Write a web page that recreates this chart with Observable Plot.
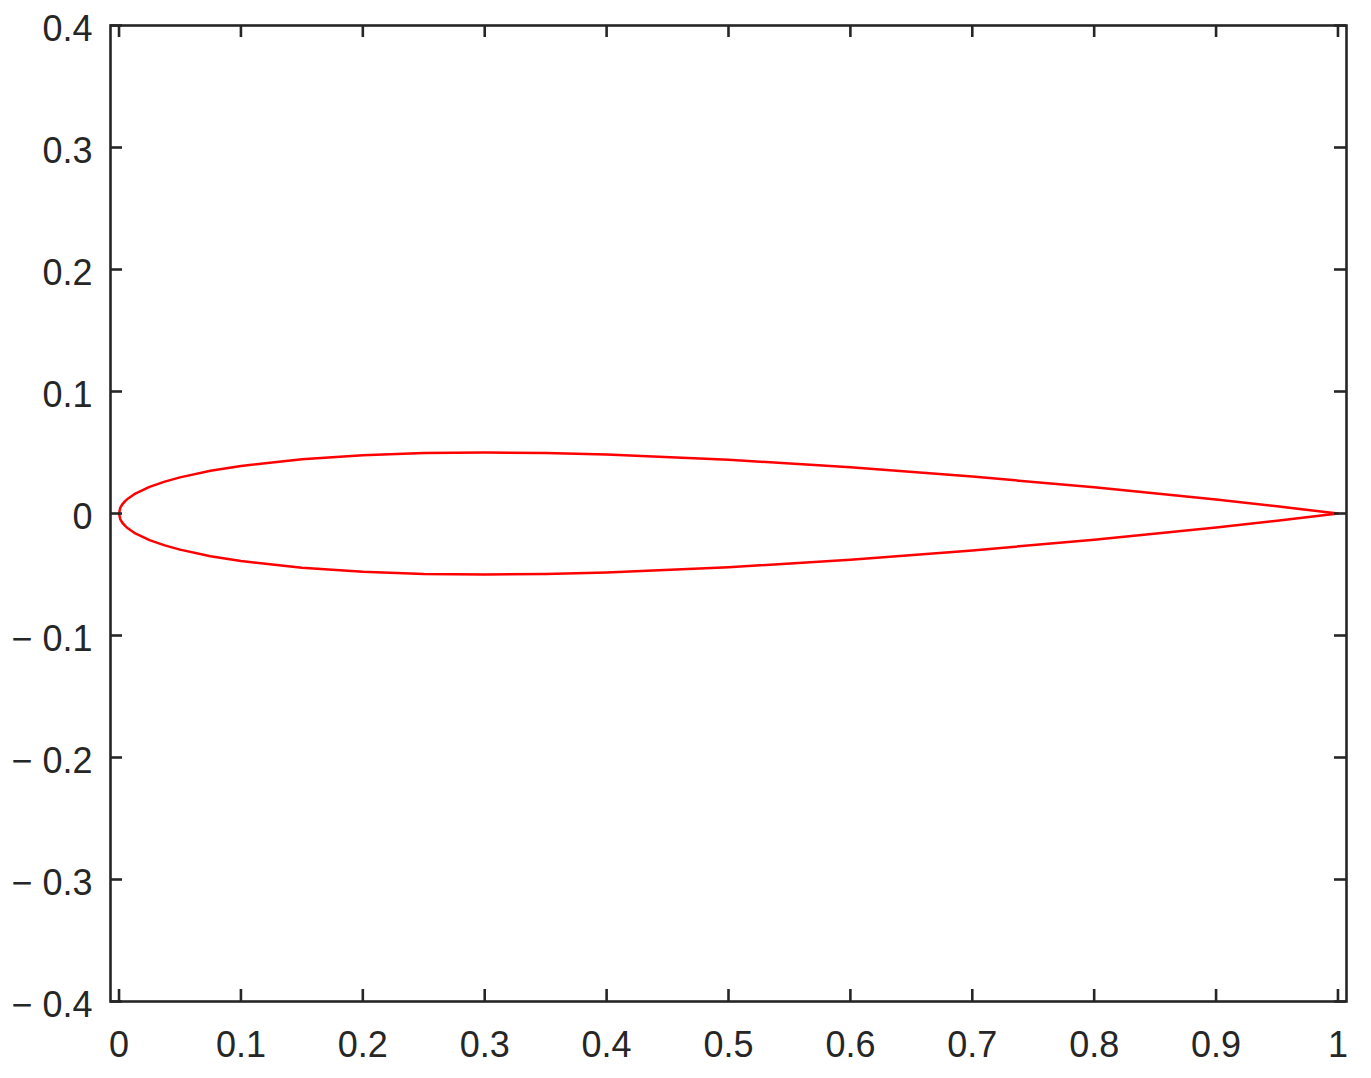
<!DOCTYPE html>
<html>
<head>
<meta charset="utf-8">
<script src="https://cdn.jsdelivr.net/npm/d3@7"></script>
<script src="https://cdn.jsdelivr.net/npm/@observablehq/plot@0.6"></script>
<style>
  html, body { margin: 0; padding: 0; background: #fff; }
  #chart svg { display: block; }
</style>
</head>
<body>
<div id="chart"></div>
<script>
// Airfoil contour stations (chord fraction)
const xStations = [0, 0.001, 0.0025, 0.005, 0.0075, 0.0125, 0.025, 0.0375, 0.05, 0.075, 0.1, 0.15, 0.2, 0.25, 0.3, 0.35, 0.4, 0.5, 0.6, 0.7, 0.8, 0.9, 0.95, 1.0];
// Upper surface ordinates
const yUpper = [0, 0.00463, 0.00726, 0.01018, 0.01237, 0.01578, 0.02179, 0.02615, 0.02962, 0.03500, 0.03902, 0.04454, 0.04781, 0.04951, 0.05001, 0.04956, 0.04833, 0.04405, 0.03789, 0.03028, 0.02143, 0.01138, 0.00587, 0];
// Lower surface ordinates
const yLower = [0, -0.00463, -0.00726, -0.01018, -0.01237, -0.01578, -0.02179, -0.02615, -0.02962, -0.03500, -0.03902, -0.04454, -0.04781, -0.04951, -0.05001, -0.04956, -0.04833, -0.04405, -0.03789, -0.03028, -0.02143, -0.01138, -0.00587, 0];

const xTicks = [0, 0.1, 0.2, 0.3, 0.4, 0.5, 0.6, 0.7, 0.8, 0.9, 1];
const yTicks = [-0.4, -0.3, -0.2, -0.1, 0, 0.1, 0.2, 0.3, 0.4];
const xDomain = [-0.007, 1.007];
const yDomain = [-0.4, 0.4];

// Closed contour: upper surface from trailing edge to leading edge, then lower surface back
const contour = [];
for (let i = xStations.length - 1; i >= 0; i--) contour.push({x: xStations[i], y: yUpper[i]});
for (let i = 1; i < xStations.length; i++) contour.push({x: xStations[i], y: yLower[i]});

const W = 1371, H = 1078;
const mL = 110, mR = 25, mT = 25, mB = 77;
const plotW = W - mL - mR, plotH = H - mT - mB;
const TL = 12;           // inward tick length
const axisColor = "#262626";
const sw = 2.6;

const fmtY = d => d === 0 ? "0" : (d < 0 ? "\u2212 " + String(Math.abs(d)) : String(d));
const fmtX = d => String(d);

const chart = Plot.plot({
  width: W,
  height: H,
  marginLeft: mL,
  marginRight: mR,
  marginTop: mT,
  marginBottom: mB,
  style: {fontFamily: "'Liberation Sans', Arial, Helvetica, sans-serif", fontSize: "36px", color: axisColor, background: "#fff"},
  x: {domain: xDomain, axis: null},
  y: {domain: yDomain, axis: null},
  marks: [
    Plot.line(contour, {x: "x", y: "y", stroke: "#ff0000", strokeWidth: 2.5, curve: "linear"}),
    // inward ticks
    Plot.tickX(xTicks, {x: d => d, insetTop: plotH - TL, stroke: axisColor, strokeWidth: sw}),
    Plot.tickX(xTicks, {x: d => d, insetBottom: plotH - TL, stroke: axisColor, strokeWidth: sw}),
    Plot.tickY(yTicks, {y: d => d, insetRight: plotW - TL, stroke: axisColor, strokeWidth: sw}),
    Plot.tickY(yTicks, {y: d => d, insetLeft: plotW - TL, stroke: axisColor, strokeWidth: sw}),
    // tick labels
    Plot.axisX(xTicks, {anchor: "bottom", label: null, tickSize: 0, tickPadding: 30, tickFormat: fmtX, fontSize: 36, fill: axisColor}),
    Plot.axisY(yTicks, {anchor: "left", label: null, tickSize: 0, tickPadding: 18, tickFormat: fmtY, fontSize: 36, fill: axisColor, dy: 4}),
    Plot.frame({stroke: axisColor, strokeWidth: sw})
  ]
});
document.getElementById("chart").appendChild(chart);
</script>
</body>
</html>
